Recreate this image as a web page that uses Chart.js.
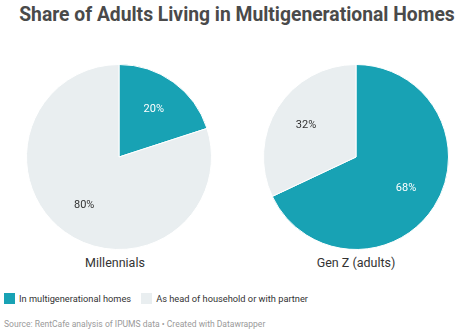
<!DOCTYPE html>
<html>
<head>
<meta charset="utf-8">
<script src="https://cdn.jsdelivr.net/npm/chart.js@4/dist/chart.umd.min.js"></script>
<style>
    html, body { margin: 0; padding: 0; background: #fff; }
    body { width: 474px; height: 334px; position: relative; overflow: hidden; font-family: Roboto, 'Noto Sans', sans-serif; }
    #title { position: absolute; left: 0; top: 3px; width: 474px; text-align: center; font-size: 19.3px; font-weight: 700; color: #4a4a4a; white-space: nowrap; }
    .pie { position: absolute; top: 64px; }
    .group { position: absolute; top: 255px; width: 200px; text-align: center; font-size: 12.5px; color: #333; }
    #legend { position: absolute; left: 4px; top: 293px; font-size: 9.25px; color: #333; display: flex; align-items: center; white-space: nowrap; }
    #legend .sw { width: 11px; height: 11px; display: inline-block; margin-right: 4px; }
    #legend .item { display: flex; align-items: center; margin-right: 10px; }
    #source { position: absolute; left: 4px; top: 318.5px; font-size: 8.55px; color: #9a9a9a; white-space: nowrap; }
</style>
</head>
<body>
<div id="title">Share of Adults Living in Multigenerational Homes</div>
<canvas id="pieA" class="pie" style="left:26px"></canvas>
<canvas id="pieB" class="pie" style="left:263px"></canvas>
<div class="group" id="labelA" style="left:15px"></div>
<div class="group" id="labelB" style="left:256px"></div>
<div id="legend"></div>
<div id="source">Source: RentCafe analysis of IPUMS data • Created with Datawrapper</div>
<script>
// categories and values
const categories = ['In multigenerational homes', 'As head of household or with partner'];
const groups = ['Millennials', 'Gen Z (adults)'];
const millennials = [20, 80];
const genZ = [68, 32];

const COLORS = ['#18a2b4', '#e9eef0'];
const LABEL_COLORS = ['#ffffff', '#333333'];

// draw the percentage inside each slice, a bit further out than the middle
const sliceLabels = {
    id: 'sliceLabels',
    afterDatasetsDraw(chart) {
        const ctx = chart.ctx;
        const meta = chart.getDatasetMeta(0);
        const values = chart.data.datasets[0].data;
        ctx.save();
        ctx.font = '11px Roboto, sans-serif';
        ctx.textAlign = 'center';
        ctx.textBaseline = 'middle';
        meta.data.forEach((arc, i) => {
            const mid = (arc.startAngle + arc.endAngle) / 2;
            const r = arc.outerRadius * 0.64;
            ctx.fillStyle = LABEL_COLORS[i];
            ctx.fillText(values[i] + '%', arc.x + Math.cos(mid) * r, arc.y + Math.sin(mid) * r);
        });
        ctx.restore();
    }
};

function renderPie(canvasId, data) {
    const canvas = document.getElementById(canvasId);
    canvas.width = 186;
    canvas.height = 186;
    return new Chart(canvas.getContext('2d'), {
        type: 'pie',
        data: {
            labels: categories,
            datasets: [{
                data: data,
                backgroundColor: COLORS,
                borderColor: '#ffffff',
                borderWidth: 1
            }]
        },
        options: {
            responsive: false,
            animation: false,
            devicePixelRatio: 1,
            layout: { padding: 0 },
            plugins: {
                legend: { display: false },
                tooltip: { enabled: false }
            }
        },
        plugins: [sliceLabels]
    });
}

renderPie('pieA', millennials);
renderPie('pieB', genZ);

document.getElementById('labelA').textContent = groups[0];
document.getElementById('labelB').textContent = groups[1];

const legend = document.getElementById('legend');
categories.forEach((name, i) => {
    const item = document.createElement('span');
    item.className = 'item';
    const sw = document.createElement('span');
    sw.className = 'sw';
    sw.style.background = COLORS[i];
    item.appendChild(sw);
    item.appendChild(document.createTextNode(name));
    legend.appendChild(item);
});
</script>
</body>
</html>
